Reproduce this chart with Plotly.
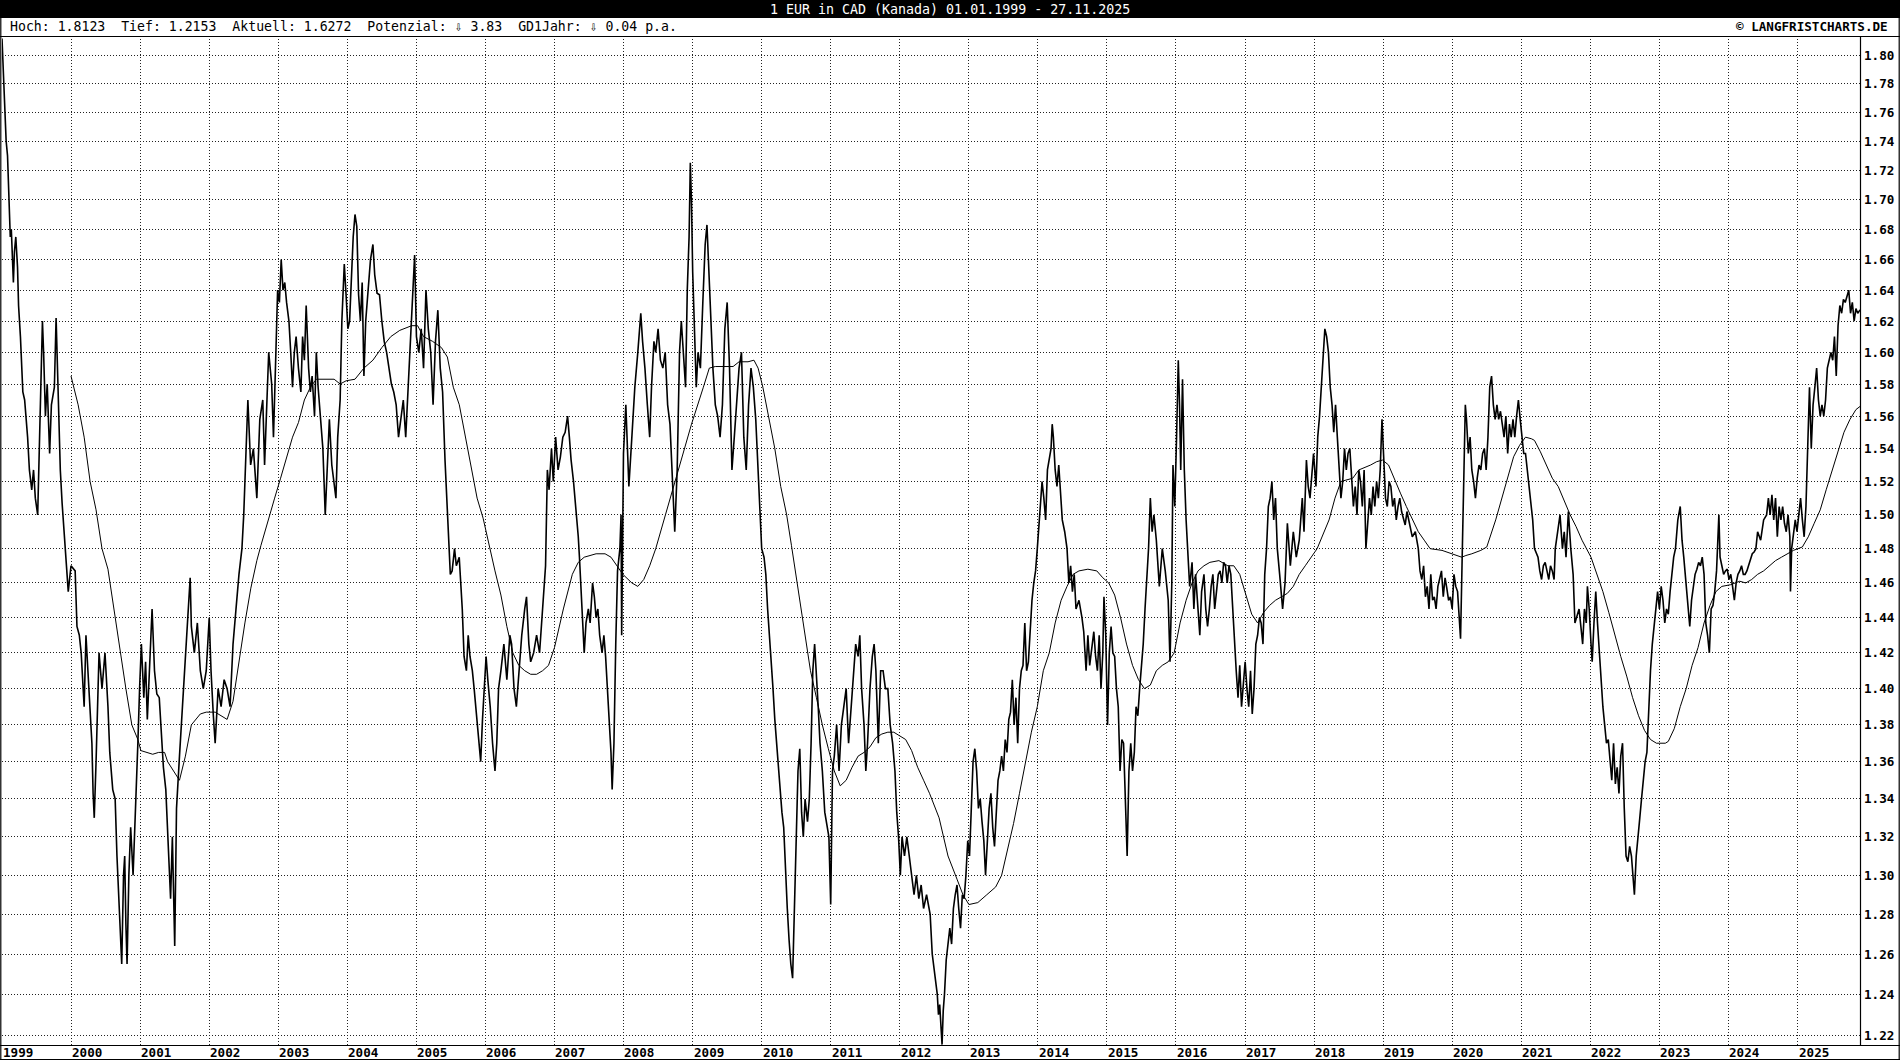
import plotly.graph_objects as go
from datetime import datetime
import math

# ---------------- data (decimal year, value) ----------------
price_series = [
(1999.000,1.8123),(1999.020,1.79),(1999.040,1.76),(1999.060,1.74),(1999.080,1.73),(1999.100,1.70),
(1999.120,1.675),(1999.135,1.68),(1999.150,1.66),(1999.165,1.645),(1999.180,1.665),(1999.200,1.675),
(1999.225,1.655),(1999.240,1.63),(1999.267,1.61),(1999.302,1.575),(1999.328,1.57),(1999.371,1.547),
(1999.397,1.527),(1999.431,1.515),(1999.457,1.527),(1999.483,1.51),(1999.517,1.50),(1999.543,1.547),
(1999.586,1.62),(1999.603,1.60),(1999.629,1.56),(1999.655,1.58),(1999.690,1.537),(1999.716,1.567),
(1999.759,1.578),(1999.784,1.622),(1999.802,1.59),(1999.828,1.547),(1999.845,1.527),(1999.871,1.507),
(1999.905,1.485),(1999.930,1.47),(1999.960,1.455),
(2000.000,1.47),(2000.060,1.467),(2000.086,1.435),(2000.120,1.43),(2000.147,1.42),(2000.172,1.397),
(2000.190,1.39),(2000.216,1.43),(2000.250,1.405),(2000.276,1.39),(2000.302,1.37),(2000.319,1.343),
(2000.336,1.33),(2000.362,1.36),(2000.388,1.395),(2000.405,1.42),(2000.448,1.40),(2000.491,1.42),
(2000.534,1.39),(2000.560,1.365),(2000.603,1.345),(2000.638,1.34),(2000.664,1.31),(2000.707,1.275),
(2000.733,1.255),(2000.759,1.30),(2000.776,1.31),(2000.793,1.275),(2000.810,1.255),(2000.836,1.30),
(2000.862,1.325),(2000.897,1.30),(2000.931,1.33),(2000.966,1.37),(2000.991,1.40),
(2001.017,1.425),(2001.052,1.395),(2001.078,1.415),(2001.103,1.383),(2001.138,1.415),(2001.172,1.445),
(2001.207,1.41),(2001.241,1.397),(2001.276,1.395),(2001.310,1.37),(2001.336,1.357),(2001.371,1.345),
(2001.397,1.32),(2001.422,1.30),(2001.440,1.288),(2001.466,1.32),(2001.500,1.264),(2001.526,1.335),
(2001.552,1.355),(2001.569,1.363),(2001.612,1.39),(2001.655,1.42),(2001.698,1.445),(2001.724,1.463),
(2001.741,1.435),(2001.784,1.42),(2001.828,1.437),(2001.871,1.41),(2001.914,1.40),(2001.957,1.41),
(2002.000,1.44),(2002.026,1.41),(2002.060,1.385),(2002.086,1.37),(2002.129,1.40),(2002.172,1.39),
(2002.216,1.405),(2002.259,1.40),(2002.302,1.39),(2002.345,1.425),(2002.388,1.445),(2002.431,1.465),
(2002.474,1.48),(2002.500,1.50),(2002.560,1.57),(2002.600,1.53),(2002.640,1.54),(2002.690,1.51),
(2002.733,1.558),(2002.776,1.57),(2002.802,1.53),(2002.836,1.565),(2002.862,1.60),(2002.905,1.58),
(2002.931,1.547),(2002.966,1.60),(2002.991,1.64),
(2003.017,1.632),(2003.043,1.66),(2003.069,1.64),(2003.095,1.645),(2003.121,1.632),(2003.155,1.62),
(2003.181,1.60),(2003.207,1.578),(2003.233,1.60),(2003.259,1.61),(2003.293,1.59),(2003.328,1.575),
(2003.353,1.61),(2003.379,1.595),(2003.405,1.63),(2003.440,1.59),(2003.466,1.575),(2003.491,1.585),
(2003.526,1.56),(2003.552,1.60),(2003.578,1.578),(2003.612,1.558),(2003.647,1.54),(2003.681,1.50),
(2003.707,1.525),(2003.741,1.558),(2003.776,1.53),(2003.810,1.517),(2003.836,1.51),(2003.862,1.547),
(2003.897,1.57),(2003.922,1.62),(2003.957,1.657),(2003.983,1.637),
(2004.009,1.615),(2004.034,1.62),(2004.060,1.65),(2004.086,1.675),(2004.112,1.69),(2004.138,1.682),
(2004.164,1.637),(2004.190,1.62),(2004.216,1.645),(2004.241,1.585),(2004.267,1.62),(2004.302,1.64),
(2004.336,1.66),(2004.371,1.67),(2004.397,1.65),(2004.431,1.638),(2004.466,1.637),(2004.500,1.62),
(2004.534,1.607),(2004.569,1.60),(2004.603,1.59),(2004.638,1.58),(2004.672,1.575),(2004.707,1.567),
(2004.741,1.547),(2004.776,1.56),(2004.810,1.57),(2004.845,1.547),(2004.879,1.578),(2004.914,1.61),
(2004.948,1.637),(2004.974,1.663),
(2005.000,1.61),(2005.034,1.60),(2005.069,1.615),(2005.103,1.59),(2005.138,1.64),(2005.172,1.615),
(2005.207,1.60),(2005.241,1.567),(2005.276,1.607),(2005.310,1.627),(2005.345,1.59),(2005.379,1.575),
(2005.414,1.533),(2005.448,1.503),(2005.474,1.482),(2005.491,1.465),(2005.517,1.467),(2005.552,1.48),
(2005.578,1.47),(2005.620,1.475),(2005.664,1.445),(2005.690,1.418),(2005.724,1.41),(2005.750,1.43),
(2005.776,1.418),(2005.810,1.41),(2005.836,1.40),(2005.862,1.39),(2005.897,1.373),(2005.931,1.36),
(2005.957,1.383),(2005.983,1.40),
(2006.009,1.418),(2006.034,1.405),(2006.069,1.39),(2006.103,1.37),(2006.138,1.355),(2006.164,1.37),
(2006.190,1.40),(2006.224,1.41),(2006.267,1.425),(2006.310,1.405),(2006.353,1.43),(2006.379,1.425),
(2006.414,1.40),(2006.448,1.39),(2006.483,1.41),(2006.526,1.43),(2006.569,1.445),(2006.595,1.452),
(2006.629,1.425),(2006.655,1.415),(2006.698,1.42),(2006.741,1.43),(2006.784,1.42),(2006.828,1.445),
(2006.871,1.47),(2006.897,1.527),(2006.922,1.515),(2006.957,1.54),(2006.983,1.52),
(2007.017,1.547),(2007.052,1.527),(2007.086,1.535),(2007.121,1.547),(2007.155,1.55),(2007.190,1.56),
(2007.216,1.547),(2007.241,1.533),(2007.276,1.52),(2007.310,1.505),(2007.345,1.487),(2007.362,1.475),
(2007.397,1.445),(2007.431,1.42),(2007.457,1.437),(2007.491,1.445),(2007.517,1.437),(2007.552,1.46),
(2007.578,1.452),(2007.603,1.44),(2007.629,1.445),(2007.655,1.43),(2007.690,1.42),(2007.716,1.43),
(2007.741,1.418),(2007.767,1.40),(2007.793,1.38),(2007.819,1.365),(2007.836,1.345),(2007.862,1.37),
(2007.888,1.425),(2007.914,1.467),(2007.948,1.48),(2007.965,1.50),(2007.974,1.43),(2007.990,1.48),
(2008.000,1.537),(2008.034,1.567),(2008.078,1.517),(2008.121,1.547),(2008.164,1.578),(2008.207,1.60),
(2008.250,1.625),(2008.276,1.607),(2008.310,1.59),(2008.345,1.567),(2008.379,1.547),(2008.405,1.578),
(2008.440,1.607),(2008.466,1.60),(2008.500,1.615),(2008.534,1.595),(2008.569,1.59),(2008.603,1.60),
(2008.638,1.567),(2008.672,1.555),(2008.707,1.517),(2008.741,1.49),(2008.776,1.527),(2008.810,1.60),
(2008.836,1.62),(2008.871,1.595),(2008.897,1.578),(2008.922,1.64),(2008.948,1.675),(2008.966,1.725),
(2008.983,1.698),
(2009.000,1.652),(2009.026,1.61),(2009.052,1.578),(2009.078,1.60),(2009.112,1.59),(2009.147,1.632),
(2009.181,1.67),(2009.207,1.683),(2009.233,1.652),(2009.259,1.632),(2009.293,1.59),(2009.328,1.567),
(2009.362,1.56),(2009.397,1.547),(2009.431,1.567),(2009.466,1.615),(2009.500,1.632),(2009.534,1.59),
(2009.569,1.527),(2009.603,1.547),(2009.638,1.567),(2009.672,1.59),(2009.707,1.60),(2009.741,1.547),
(2009.776,1.527),(2009.810,1.567),(2009.845,1.59),(2009.879,1.578),(2009.914,1.558),(2009.948,1.527),
(2009.974,1.505),
(2010.000,1.48),(2010.034,1.475),(2010.060,1.465),(2010.086,1.445),(2010.112,1.43),(2010.138,1.42),
(2010.164,1.40),(2010.190,1.383),(2010.216,1.37),(2010.241,1.355),(2010.267,1.343),(2010.293,1.333),
(2010.319,1.325),(2010.345,1.30),(2010.371,1.283),(2010.397,1.267),(2010.422,1.255),(2010.448,1.248),
(2010.474,1.283),(2010.500,1.32),(2010.526,1.355),(2010.552,1.367),(2010.578,1.333),(2010.603,1.32),
(2010.629,1.34),(2010.664,1.328),(2010.690,1.34),(2010.716,1.37),(2010.741,1.41),(2010.767,1.425),
(2010.793,1.41),(2010.819,1.39),(2010.845,1.37),(2010.879,1.355),(2010.914,1.333),(2010.948,1.325),
(2010.974,1.32),
(2011.000,1.285),(2011.026,1.355),(2011.052,1.363),(2011.086,1.38),(2011.121,1.355),(2011.155,1.38),
(2011.190,1.39),(2011.224,1.40),(2011.259,1.37),(2011.293,1.39),(2011.328,1.41),(2011.362,1.425),
(2011.397,1.418),(2011.422,1.43),(2011.448,1.40),(2011.483,1.38),(2011.509,1.355),(2011.534,1.37),
(2011.569,1.40),(2011.603,1.418),(2011.629,1.425),(2011.655,1.41),(2011.690,1.37),(2011.724,1.41),
(2011.759,1.41),(2011.793,1.40),(2011.828,1.40),(2011.862,1.38),(2011.897,1.37),(2011.931,1.355),
(2011.957,1.333),(2011.983,1.32),
(2012.009,1.30),(2012.034,1.32),(2012.069,1.31),(2012.103,1.32),(2012.138,1.31),(2012.172,1.30),
(2012.207,1.29),(2012.241,1.30),(2012.276,1.288),(2012.310,1.295),(2012.345,1.283),(2012.388,1.29),
(2012.440,1.28),(2012.470,1.26),(2012.517,1.248),(2012.543,1.24),(2012.560,1.23),(2012.578,1.235),
(2012.595,1.225),(2012.612,1.2155),(2012.629,1.232),(2012.647,1.24),(2012.672,1.257),(2012.698,1.265),
(2012.724,1.273),(2012.750,1.265),(2012.776,1.283),(2012.802,1.29),(2012.828,1.295),(2012.853,1.283),
(2012.879,1.273),(2012.905,1.29),(2012.931,1.288),(2012.957,1.30),(2012.983,1.318),
(2013.009,1.31),(2013.034,1.335),(2013.060,1.36),(2013.086,1.367),(2013.112,1.355),(2013.138,1.335),
(2013.164,1.34),(2013.190,1.328),(2013.216,1.318),(2013.241,1.30),(2013.267,1.318),(2013.293,1.335),
(2013.319,1.343),(2013.345,1.325),(2013.371,1.315),(2013.397,1.335),(2013.422,1.35),(2013.448,1.355),
(2013.474,1.363),(2013.500,1.355),(2013.526,1.372),(2013.552,1.365),(2013.578,1.383),(2013.603,1.387),
(2013.629,1.405),(2013.655,1.38),(2013.681,1.395),(2013.707,1.37),(2013.733,1.40),(2013.759,1.41),
(2013.784,1.413),(2013.810,1.437),(2013.836,1.41),(2013.862,1.415),(2013.888,1.435),(2013.914,1.45),
(2013.940,1.46),(2013.966,1.467),(2013.991,1.48),
(2014.034,1.505),(2014.060,1.52),(2014.086,1.51),(2014.112,1.497),(2014.138,1.527),(2014.164,1.535),
(2014.190,1.54),(2014.207,1.555),(2014.224,1.547),(2014.250,1.527),(2014.276,1.517),(2014.302,1.53),
(2014.328,1.51),(2014.353,1.497),(2014.388,1.49),(2014.422,1.48),(2014.448,1.46),(2014.474,1.47),
(2014.500,1.455),(2014.526,1.465),(2014.552,1.445),(2014.595,1.45),(2014.638,1.44),(2014.664,1.432),
(2014.698,1.41),(2014.724,1.43),(2014.750,1.413),(2014.776,1.42),(2014.810,1.432),(2014.836,1.418),
(2014.862,1.41),(2014.888,1.43),(2014.914,1.40),(2014.940,1.42),(2014.957,1.452),(2014.983,1.43),
(2015.009,1.38),(2015.034,1.42),(2015.060,1.435),(2015.086,1.42),(2015.112,1.418),(2015.138,1.40),
(2015.164,1.39),(2015.190,1.355),(2015.216,1.372),(2015.241,1.37),(2015.267,1.335),(2015.293,1.31),
(2015.319,1.355),(2015.345,1.37),(2015.371,1.355),(2015.397,1.365),(2015.422,1.39),(2015.448,1.385),
(2015.474,1.40),(2015.500,1.413),(2015.526,1.425),(2015.552,1.445),(2015.578,1.465),(2015.603,1.48),
(2015.629,1.51),(2015.655,1.49),(2015.681,1.50),(2015.716,1.485),(2015.759,1.458),(2015.802,1.48),
(2015.845,1.467),(2015.888,1.45),(2015.914,1.415),(2015.940,1.46),(2015.957,1.53),(2015.983,1.505),
(2016.009,1.547),(2016.034,1.595),(2016.052,1.567),(2016.069,1.527),(2016.095,1.583),(2016.121,1.527),
(2016.147,1.497),(2016.172,1.48),(2016.198,1.458),(2016.233,1.472),(2016.259,1.445),(2016.284,1.465),
(2016.319,1.445),(2016.345,1.43),(2016.371,1.455),(2016.405,1.465),(2016.431,1.445),(2016.457,1.435),
(2016.483,1.445),(2016.509,1.458),(2016.534,1.465),(2016.560,1.445),(2016.586,1.455),(2016.612,1.465),
(2016.638,1.467),(2016.664,1.46),(2016.690,1.472),(2016.716,1.47),(2016.741,1.46),(2016.767,1.47),
(2016.793,1.465),(2016.819,1.445),(2016.845,1.425),(2016.871,1.41),(2016.897,1.395),(2016.922,1.413),
(2016.948,1.39),(2016.974,1.405),
(2017.000,1.415),(2017.026,1.40),(2017.052,1.39),(2017.078,1.41),(2017.103,1.386),(2017.129,1.40),
(2017.155,1.425),(2017.181,1.43),(2017.207,1.44),(2017.233,1.437),(2017.259,1.425),(2017.284,1.465),
(2017.310,1.48),(2017.336,1.505),(2017.362,1.51),(2017.388,1.52),(2017.414,1.497),(2017.440,1.51),
(2017.466,1.48),(2017.500,1.465),(2017.543,1.445),(2017.578,1.46),(2017.612,1.495),(2017.655,1.47),
(2017.698,1.49),(2017.741,1.475),(2017.784,1.485),(2017.828,1.51),(2017.853,1.49),(2017.888,1.533),
(2017.914,1.517),(2017.940,1.51),(2017.966,1.527),(2017.991,1.537),
(2018.026,1.517),(2018.052,1.547),(2018.078,1.56),(2018.103,1.578),(2018.129,1.595),(2018.155,1.615),
(2018.181,1.61),(2018.207,1.60),(2018.233,1.578),(2018.259,1.567),(2018.284,1.55),(2018.310,1.567),
(2018.336,1.547),(2018.362,1.527),(2018.388,1.51),(2018.414,1.52),(2018.440,1.54),(2018.466,1.527),
(2018.491,1.537),(2018.517,1.54),(2018.543,1.52),(2018.569,1.505),(2018.595,1.517),(2018.621,1.50),
(2018.647,1.527),(2018.672,1.52),(2018.698,1.505),(2018.724,1.527),(2018.750,1.48),(2018.776,1.497),
(2018.802,1.51),(2018.828,1.50),(2018.853,1.517),(2018.879,1.505),(2018.905,1.52),(2018.931,1.51),
(2018.957,1.527),(2018.983,1.558),
(2019.009,1.527),(2019.034,1.51),(2019.060,1.505),(2019.086,1.52),(2019.112,1.517),(2019.138,1.505),
(2019.164,1.51),(2019.190,1.497),(2019.216,1.505),(2019.241,1.51),(2019.267,1.502),(2019.293,1.498),
(2019.319,1.494),(2019.345,1.502),(2019.371,1.497),(2019.397,1.492),(2019.422,1.487),(2019.466,1.49),
(2019.509,1.48),(2019.534,1.467),(2019.560,1.462),(2019.586,1.47),(2019.612,1.452),(2019.638,1.458),
(2019.664,1.445),(2019.690,1.465),(2019.716,1.45),(2019.741,1.452),(2019.767,1.445),(2019.793,1.458),
(2019.819,1.462),(2019.845,1.467),(2019.871,1.452),(2019.897,1.463),(2019.922,1.457),(2019.948,1.45),
(2019.974,1.452),
(2020.000,1.445),(2020.026,1.465),(2020.052,1.458),(2020.078,1.455),(2020.103,1.437),(2020.121,1.428),
(2020.147,1.48),(2020.172,1.547),(2020.190,1.567),(2020.207,1.558),(2020.233,1.537),(2020.259,1.547),
(2020.284,1.527),(2020.310,1.52),(2020.336,1.51),(2020.362,1.522),(2020.388,1.53),(2020.414,1.527),
(2020.440,1.537),(2020.466,1.54),(2020.491,1.527),(2020.517,1.547),(2020.543,1.578),(2020.569,1.585),
(2020.595,1.567),(2020.621,1.558),(2020.647,1.567),(2020.672,1.558),(2020.698,1.563),(2020.724,1.555),
(2020.750,1.547),(2020.776,1.56),(2020.802,1.537),(2020.828,1.555),(2020.853,1.547),(2020.879,1.558),
(2020.905,1.547),(2020.931,1.56),(2020.957,1.57),(2020.983,1.558),
(2021.009,1.547),(2021.034,1.537),(2021.060,1.537),(2021.086,1.527),(2021.112,1.517),(2021.138,1.505),
(2021.164,1.497),(2021.190,1.48),(2021.216,1.477),(2021.241,1.475),(2021.267,1.467),(2021.293,1.462),
(2021.319,1.47),(2021.345,1.472),(2021.371,1.467),(2021.397,1.462),(2021.422,1.47),(2021.448,1.467),
(2021.474,1.462),(2021.491,1.48),(2021.526,1.49),(2021.560,1.50),(2021.595,1.48),(2021.621,1.49),
(2021.647,1.475),(2021.681,1.502),(2021.716,1.48),(2021.750,1.465),(2021.776,1.437),(2021.802,1.44),
(2021.836,1.445),(2021.862,1.435),(2021.888,1.425),(2021.914,1.445),(2021.940,1.437),(2021.957,1.458),
(2021.983,1.445),
(2022.009,1.425),(2022.026,1.415),(2022.052,1.437),(2022.078,1.455),(2022.103,1.437),(2022.129,1.42),
(2022.155,1.41),(2022.181,1.39),(2022.207,1.38),(2022.233,1.37),(2022.259,1.372),(2022.284,1.36),
(2022.310,1.35),(2022.336,1.37),(2022.362,1.348),(2022.388,1.357),(2022.414,1.343),(2022.440,1.363),
(2022.466,1.37),(2022.491,1.335),(2022.517,1.31),(2022.543,1.307),(2022.569,1.315),(2022.595,1.31),
(2022.621,1.30),(2022.638,1.29),(2022.664,1.31),(2022.690,1.322),(2022.716,1.33),(2022.741,1.34),
(2022.767,1.35),(2022.793,1.36),(2022.819,1.365),(2022.845,1.39),(2022.871,1.41),(2022.897,1.425),
(2022.922,1.435),(2022.948,1.445),(2022.974,1.455),
(2023.000,1.445),(2023.026,1.458),(2023.052,1.45),(2023.078,1.437),(2023.103,1.445),(2023.129,1.442),
(2023.155,1.455),(2023.181,1.465),(2023.207,1.475),(2023.233,1.48),(2023.267,1.497),(2023.302,1.505),
(2023.328,1.485),(2023.353,1.475),(2023.388,1.46),(2023.414,1.445),(2023.440,1.435),(2023.466,1.45),
(2023.491,1.458),(2023.517,1.465),(2023.543,1.468),(2023.569,1.472),(2023.595,1.47),(2023.621,1.475),
(2023.647,1.465),(2023.672,1.437),(2023.698,1.43),(2023.724,1.42),(2023.750,1.445),(2023.776,1.447),
(2023.802,1.455),(2023.828,1.467),(2023.862,1.50),(2023.879,1.475),(2023.905,1.47),(2023.931,1.465),
(2023.957,1.467),(2023.983,1.468),
(2024.009,1.462),(2024.034,1.465),(2024.060,1.458),(2024.086,1.45),(2024.112,1.46),(2024.138,1.465),
(2024.164,1.467),(2024.190,1.47),(2024.216,1.465),(2024.241,1.465),(2024.267,1.467),(2024.293,1.47),
(2024.319,1.474),(2024.345,1.477),(2024.371,1.478),(2024.397,1.48),(2024.422,1.49),(2024.466,1.485),
(2024.509,1.497),(2024.552,1.50),(2024.578,1.51),(2024.603,1.50),(2024.629,1.512),(2024.655,1.497),
(2024.681,1.51),(2024.707,1.487),(2024.733,1.505),(2024.759,1.497),(2024.784,1.505),(2024.810,1.495),
(2024.836,1.49),(2024.862,1.50),(2024.888,1.487),(2024.897,1.455),(2024.914,1.48),(2024.940,1.487),
(2024.966,1.497),(2024.991,1.49),
(2025.017,1.50),(2025.043,1.51),(2025.069,1.497),(2025.095,1.487),(2025.121,1.505),(2025.147,1.547),
(2025.172,1.578),(2025.198,1.54),(2025.224,1.567),(2025.250,1.578),(2025.276,1.59),(2025.302,1.57),
(2025.328,1.56),(2025.353,1.567),(2025.379,1.56),(2025.405,1.57),(2025.431,1.59),(2025.457,1.595),
(2025.483,1.60),(2025.509,1.595),(2025.534,1.61),(2025.560,1.585),(2025.586,1.617),(2025.612,1.63),
(2025.638,1.625),(2025.664,1.634),(2025.690,1.632),(2025.716,1.636),(2025.741,1.64),(2025.767,1.625),
(2025.793,1.632),(2025.819,1.62),(2025.845,1.628),(2025.871,1.625),(2025.905,1.6272),
]

# 1-year moving average ("GD1Jahr") as drawn in the reference
ma_series = [
(2000.000,1.585),(2000.103,1.567),(2000.190,1.547),(2000.276,1.52),(2000.362,1.503),(2000.448,1.48),
(2000.534,1.468),(2000.621,1.445),(2000.707,1.42),(2000.793,1.40),(2000.879,1.38),(2000.966,1.372),
(2001.009,1.366),(2001.095,1.365),(2001.181,1.364),(2001.267,1.365),(2001.353,1.365),(2001.397,1.36),
(2001.483,1.355),(2001.569,1.35),(2001.655,1.363),(2001.741,1.38),(2001.871,1.386),(2001.957,1.387),
(2002.086,1.387),(2002.172,1.385),(2002.259,1.383),(2002.345,1.393),(2002.431,1.415),(2002.517,1.437),
(2002.603,1.457),(2002.690,1.473),(2002.750,1.482),(2002.862,1.497),(2002.948,1.51),(2003.034,1.522),
(2003.121,1.535),(2003.207,1.547),(2003.293,1.556),(2003.379,1.57),(2003.466,1.578),(2003.552,1.583),
(2003.810,1.583),(2003.897,1.58),(2003.983,1.582),(2004.112,1.583),(2004.241,1.59),(2004.371,1.595),
(2004.500,1.603),(2004.629,1.61),(2004.759,1.614),(2004.931,1.617),(2005.017,1.617),(2005.103,1.61),
(2005.233,1.607),(2005.362,1.603),(2005.448,1.597),(2005.534,1.578),(2005.621,1.567),(2005.707,1.547),
(2005.793,1.527),(2005.879,1.51),(2005.966,1.498),(2006.052,1.482),(2006.138,1.467),(2006.224,1.453),
(2006.310,1.435),(2006.397,1.42),(2006.483,1.413),(2006.569,1.41),(2006.655,1.408),(2006.741,1.408),
(2006.828,1.41),(2006.914,1.413),(2007.000,1.423),(2007.129,1.445),(2007.259,1.465),(2007.345,1.472),
(2007.431,1.475),(2007.603,1.477),(2007.733,1.477),(2007.819,1.475),(2007.905,1.47),(2007.991,1.465),
(2008.121,1.46),(2008.207,1.458),(2008.293,1.462),(2008.379,1.47),(2008.466,1.48),(2008.638,1.505),
(2008.810,1.53),(2008.983,1.555),(2009.155,1.578),(2009.241,1.59),(2009.328,1.591),(2009.457,1.591),
(2009.586,1.591),(2009.672,1.594),(2009.802,1.594),(2009.888,1.595),(2009.948,1.59),(2010.017,1.578),
(2010.103,1.558),(2010.190,1.54),(2010.276,1.517),(2010.362,1.50),(2010.431,1.482),(2010.534,1.455),
(2010.621,1.432),(2010.707,1.41),(2010.793,1.395),(2010.879,1.38),(2010.966,1.367),(2011.052,1.355),
(2011.138,1.347),(2011.224,1.35),(2011.310,1.357),(2011.397,1.363),(2011.483,1.365),(2011.569,1.368),
(2011.655,1.373),(2011.741,1.375),(2011.828,1.376),(2011.914,1.376),(2012.000,1.374),(2012.086,1.372),
(2012.172,1.366),(2012.259,1.357),(2012.345,1.35),(2012.431,1.343),(2012.569,1.33),(2012.698,1.31),
(2012.828,1.298),(2012.914,1.29),(2013.000,1.285),(2013.129,1.286),(2013.259,1.29),(2013.388,1.294),
(2013.474,1.30),(2013.560,1.313),(2013.647,1.327),(2013.733,1.343),(2013.819,1.36),(2013.905,1.376),
(2013.991,1.39),(2014.078,1.41),(2014.164,1.42),(2014.250,1.437),(2014.336,1.45),(2014.422,1.458),
(2014.509,1.465),(2014.595,1.467),(2014.724,1.468),(2014.853,1.467),(2014.940,1.463),(2015.026,1.46),
(2015.112,1.453),(2015.198,1.44),(2015.284,1.425),(2015.371,1.413),(2015.457,1.405),(2015.543,1.40),
(2015.629,1.402),(2015.716,1.41),(2015.802,1.413),(2015.888,1.415),(2015.974,1.42),(2016.060,1.437),
(2016.147,1.45),(2016.233,1.46),(2016.319,1.467),(2016.405,1.47),(2016.491,1.472),(2016.621,1.473),
(2016.750,1.47),(2016.836,1.47),(2016.922,1.465),(2017.009,1.453),(2017.095,1.442),(2017.181,1.437),
(2017.267,1.443),(2017.353,1.447),(2017.440,1.45),(2017.526,1.452),(2017.612,1.454),(2017.698,1.458),
(2017.784,1.465),(2017.871,1.47),(2017.957,1.475),(2018.043,1.48),(2018.216,1.497),(2018.302,1.51),
(2018.388,1.52),(2018.560,1.522),(2018.647,1.527),(2018.819,1.53),(2018.905,1.532),(2018.991,1.533),
(2019.078,1.53),(2019.164,1.522),(2019.250,1.513),(2019.336,1.505),(2019.422,1.498),(2019.509,1.49),
(2019.595,1.485),(2019.681,1.48),(2019.853,1.479),(2019.983,1.477),(2020.069,1.476),(2020.138,1.475),
(2020.198,1.476),(2020.284,1.477),(2020.414,1.479),(2020.500,1.481),(2020.629,1.497),(2020.716,1.51),
(2020.802,1.522),(2020.888,1.535),(2020.974,1.542),(2021.060,1.547),(2021.147,1.546),(2021.190,1.545),
(2021.276,1.538),(2021.362,1.53),(2021.448,1.522),(2021.534,1.517),(2021.621,1.508),(2021.707,1.50),
(2021.793,1.493),(2021.879,1.485),(2022.009,1.475),(2022.095,1.465),(2022.181,1.455),(2022.267,1.443),
(2022.353,1.43),(2022.440,1.418),(2022.526,1.407),(2022.612,1.395),(2022.698,1.385),(2022.784,1.377),
(2022.871,1.372),(2022.957,1.37),(2023.086,1.37),(2023.129,1.371),(2023.216,1.378),(2023.302,1.39),
(2023.388,1.40),(2023.474,1.413),(2023.560,1.423),(2023.647,1.437),(2023.733,1.447),(2023.819,1.455),
(2023.905,1.458),(2024.034,1.459),(2024.164,1.461),(2024.250,1.46),(2024.336,1.462),(2024.422,1.465),
(2024.509,1.467),(2024.595,1.47),(2024.681,1.473),(2024.767,1.475),(2024.853,1.477),(2024.940,1.479),
(2025.069,1.481),(2025.155,1.487),(2025.241,1.495),(2025.328,1.503),(2025.414,1.515),(2025.500,1.527),
(2025.586,1.538),(2025.672,1.55),(2025.759,1.558),(2025.845,1.564),(2025.905,1.566),
]

year_ticks = [1999, 2000, 2001, 2002, 2003, 2004, 2005, 2006, 2007, 2008, 2009, 2010, 2011, 2012, 2013,
              2014, 2015, 2016, 2017, 2018, 2019, 2020, 2021, 2022, 2023, 2024, 2025]
value_ticks = [1.22, 1.24, 1.26, 1.28, 1.30, 1.32, 1.34, 1.36, 1.38, 1.40, 1.42, 1.44, 1.46, 1.48, 1.50,
               1.52, 1.54, 1.56, 1.58, 1.60, 1.62, 1.64, 1.66, 1.68, 1.70, 1.72, 1.74, 1.76, 1.78, 1.80]

title_text = "1 EUR in CAD (Kanada) 01.01.1999 - 27.11.2025"
stats_text = "Hoch: 1.8123  Tief: 1.2153  Aktuell: 1.6272  Potenzial: \u21e9 3.83  GD1Jahr: \u21e9 0.04 p.a."
copyright_text = "\u00a9 LANGFRISTCHARTS.DE"
y_low, y_high = 1.2153, 1.8141
date_start, date_end = "1999-01-01", "2025-11-27"

# ---------------- helpers ----------------
def to_date(t):
    y = int(math.floor(t))
    a = datetime(y, 1, 1)
    b = datetime(y + 1, 1, 1)
    return a + (b - a) * (t - y)

px_x = [to_date(t) for t, _ in price_series]
px_y = [v for _, v in price_series]
ma_x = [to_date(t) for t, _ in ma_series]
ma_y = [v for _, v in ma_series]

W, H = 1900, 1060
ML, MR, MT, MB = 2, 40, 36, 15
PW, PH = W - ML - MR, H - MT - MB

def pxx(x):
    return (x - ML) / PW

def pxy(y):
    return (H - MB - y) / PH

FONT = "DejaVu Sans Mono"

fig = go.Figure()
fig.add_trace(go.Scatter(x=ma_x, y=ma_y, mode="lines", line=dict(color="black", width=1),
                         hoverinfo="skip", showlegend=False))
fig.add_trace(go.Scatter(x=px_x, y=px_y, mode="lines", line=dict(color="black", width=1.6),
                         hoverinfo="skip", showlegend=False))

grid_dash = "1px,2px"
fig.update_xaxes(
    type="date", range=[date_start, date_end],
    tickvals=[f"{y}-01-01" for y in year_ticks], showticklabels=False,
    showgrid=True, gridcolor="#222222", gridwidth=1, griddash=grid_dash,
    ticks="", showline=False, zeroline=False, automargin=False,
)
fig.update_yaxes(
    type="log", range=[math.log10(y_low), math.log10(y_high)], side="right",
    tickvals=value_ticks, showticklabels=False,
    showgrid=True, gridcolor="#222222", gridwidth=1, griddash=grid_dash,
    ticks="", showline=False, zeroline=False, automargin=False,
)

shapes = []
shapes.append(dict(type="rect", xref="paper", yref="paper", x0=pxx(0), x1=pxx(W), y0=pxy(18), y1=pxy(0),
                   fillcolor="black", line=dict(width=0), layer="above"))
def hline(y, x0=0, x1=W):
    shapes.append(dict(type="line", xref="paper", yref="paper", x0=pxx(x0), x1=pxx(x1), y0=pxy(y), y1=pxy(y),
                       line=dict(color="black", width=1.2), layer="above"))
def vline(x, y0, y1):
    shapes.append(dict(type="line", xref="paper", yref="paper", x0=pxx(x), x1=pxx(x), y0=pxy(y0), y1=pxy(y1),
                       line=dict(color="black", width=1.2), layer="above"))
hline(36.5)
hline(1045.5)
hline(1059.5)
vline(0.8, 18, 1060)
vline(1899.2, 18, 1060)
vline(1860.5, 36.5, 1045.5)

bold_font = dict(family=FONT, size=12.6, color="black", weight="bold")
annotations = [
    dict(text=title_text, xref="paper", yref="paper", x=pxx(950), y=pxy(9.5), xanchor="center", yanchor="middle",
         showarrow=False, font=dict(family=FONT, size=13.3, color="white")),
    dict(text=stats_text, xref="paper", yref="paper", x=pxx(8), y=pxy(27), xanchor="left", yanchor="middle",
         showarrow=False, font=dict(family=FONT, size=13.2, color="black")),
    dict(text=copyright_text, xref="paper", yref="paper", x=pxx(1890), y=pxy(27), xanchor="right", yanchor="middle",
         showarrow=False, font=dict(family=FONT, size=12.6, color="black", weight="bold")),
]
# year labels, left-aligned at each 1 January, placed through the x axis
for y in year_ticks:
    annotations.append(dict(text=str(y), xref="x", yref="paper", x=f"{y}-01-01", y=pxy(1052.5),
                            xanchor="left", yanchor="middle", xshift=-1, showarrow=False, font=bold_font))
# value labels on the right, placed through the (log) y axis
for v in value_ticks:
    annotations.append(dict(text=f"{v:.2f}", xref="paper", yref="y", x=pxx(1862), y=math.log10(v),
                            xanchor="left", yanchor="middle", showarrow=False, font=bold_font))

fig.update_layout(
    width=W, height=H, margin=dict(l=ML, r=MR, t=MT, b=MB, pad=0),
    paper_bgcolor="white", plot_bgcolor="white",
    shapes=shapes, annotations=annotations, showlegend=False,
)

fig.write_html("out.html", config={"displayModeBar": False},
               post_script="document.body.style.margin='0px';document.body.style.overflow='hidden';")
